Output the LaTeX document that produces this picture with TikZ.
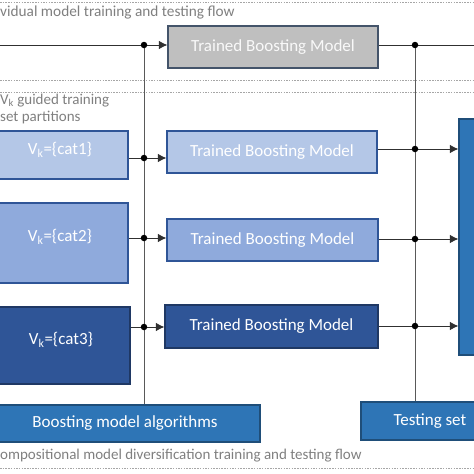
\documentclass[tikz,border=0pt]{standalone}
\usepackage{fontspec}
\setmainfont{Carlito}
\usetikzlibrary{arrows.meta}
\definecolor{grayfill}{HTML}{BFBFBF}
\definecolor{grayedge}{HTML}{44546A}
\definecolor{lightfill}{HTML}{B4C7E7}
\definecolor{midfill}{HTML}{8FAADC}
\definecolor{bluedge}{HTML}{2F5597}
\definecolor{darkfill}{HTML}{2F5597}
\definecolor{darkedge}{HTML}{1F3864}
\definecolor{accfill}{HTML}{2E75B6}
\definecolor{accedge}{HTML}{1F4E79}
\definecolor{labelgray}{HTML}{7F7F7F}
\definecolor{dashgray}{HTML}{A6A6A6}
\definecolor{wire}{HTML}{303030}
\tikzset{
  box/.style={draw, line width=1.2pt, inner sep=0pt, text=white, font=\fontsize{17}{20}\selectfont},
  graybox/.style={box, fill=grayfill, draw=grayedge, text=white!95!gray},
  lightbox/.style={box, fill=lightfill, draw=bluedge},
  midbox/.style={box, fill=midfill, draw=bluedge},
  darkbox/.style={box, fill=darkfill, draw=darkedge},
  accbox/.style={box, fill=accfill, draw=accedge},
  wireline/.style={draw=wire, line width=0.9pt},
  vwire/.style={draw=wire!80!white, line width=0.9pt},
  arr/.style={wireline, -{Latex[length=8.5pt,width=8.5pt]}},
  junction/.style={circle, fill=black, inner sep=0pt, minimum size=6.5pt},
  seplabel/.style={text=labelgray, font=\fontsize{15}{17}\selectfont, inner sep=0pt, anchor=west},
  sepline/.style={draw=dashgray, line width=0.6pt, dash pattern=on 1.5pt off 1.2pt}
}
\begin{document}
\begin{tikzpicture}[x=1pt,y=-1pt]
\useasboundingbox (0,0) rectangle (474,474);
\begin{scope}
\clip (0,0) rectangle (474,474);
% separators
\draw[sepline] (0,2) -- (474,2);
\draw[sepline] (0,80) -- (474,80);
\draw[sepline] (0,92) -- (474,92);
\draw[sepline] (0,468) -- (474,468);
% labels
\node[seplabel, font=\fontsize{15.3}{17}\selectfont] (l1) at (0,13) {vidual model training and testing flow};
\node[seplabel, align=left, anchor=north west] (l2) at (0,94) {V\textsubscript{k} guided training\\set partitions};
\node[seplabel] (l3) at (0,456) {ompositional model diversification training and testing flow};
% boxes
\node[graybox, minimum width=210pt, minimum height=42pt] (T1) at (273,47) {Trained Boosting Model};
\node[lightbox, minimum width=210pt, minimum height=42pt] (T2) at (272,152) {Trained Boosting Model};
\node[midbox, minimum width=211pt, minimum height=42pt] (T3) at (272.5,240) {Trained Boosting Model};
\node[darkbox, minimum width=213pt, minimum height=43pt] (T4) at (271.5,326.5) {Trained Boosting Model};
\node[lightbox, minimum width=136pt, minimum height=48pt] (C1) at (60,155) {};
\node[midbox, minimum width=136pt, minimum height=80pt] (C2) at (60,243) {};
\node[darkbox, minimum width=138pt, minimum height=77pt] (C3) at (61,345.5) {};
\node[box, draw=none, fill=none] (c1t) at (60,150) {V\textsubscript{k}=\{cat1\}};
\node[box, draw=none, fill=none] (c2t) at (60,237) {V\textsubscript{k}=\{cat2\}};
\node[box, draw=none, fill=none] (c3t) at (61,340) {V\textsubscript{k}=\{cat3\}};
\node[accbox, minimum width=40pt, minimum height=236pt] (R) at (479,237) {};
\node[accbox, minimum width=270pt, minimum height=37pt] (B) at (125,423.5) {Boosting model algorithms};
\node[accbox, minimum width=138pt, minimum height=38pt] (S) at (430,421) {Testing set};
% junctions
\coordinate (top0) at (-5,45);
\coordinate (topend) at (480,45);
\coordinate (a0) at (144,45);
\coordinate (a1) at (144,158);
\coordinate (a2) at (144,238);
\coordinate (a3) at (144,327);
\coordinate (b0) at (415,45);
\coordinate (b1) at (415,149);
\coordinate (b2) at (415,239);
\coordinate (b3) at (415,326);
% vertical buses
\draw[vwire] (a0) -- (a0 |- B.north);
\draw[vwire] (b0) -- (b0 |- S.north);
% top row
\draw[wireline] (top0) -- (a0);
\draw[arr] (a0) -- (T1.west |- a0);
\draw[wireline] (T1.east |- b0) -- (topend);
% left inputs
\draw[wireline] (C1.east |- a1) -- (a1);
\draw[arr] (a1) -- (T2.west |- a1);
\draw[wireline] (C2.east |- a2) -- (a2);
\draw[arr] (a2) -- (T3.west |- a2);
\draw[wireline] (C3.east |- a3) -- (a3);
\draw[arr] (a3) -- (T4.west |- a3);
% right outputs
\draw[arr] (T2.east |- b1) -- (R.west |- b1);
\draw[arr] (T3.east |- b2) -- (R.west |- b2);
\draw[arr] (T4.east |- b3) -- (R.west |- b3);
% dots
\foreach \p in {a0,a1,a2,a3,b0,b1,b2,b3} \node[junction] at (\p) {};
\end{scope}
\end{tikzpicture}
\end{document}
